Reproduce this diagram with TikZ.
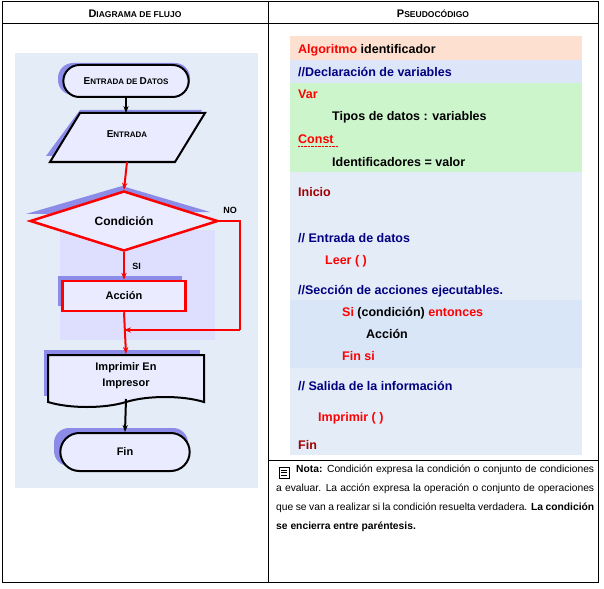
\documentclass[tikz,border=0pt]{standalone}
\usepackage{fontspec}
\setmainfont{Liberation Sans}
\usetikzlibrary{shapes.geometric,shapes.symbols,shapes.misc,arrows.meta}
\definecolor{kw}{HTML}{FF0000}
\definecolor{cm}{HTML}{000080}
\definecolor{dr}{HTML}{A00000}
\definecolor{panel}{HTML}{E4ECF8}
\definecolor{bandA}{HTML}{FDE0D0}
\definecolor{bandB}{HTML}{DCE6F8}
\definecolor{bandC}{HTML}{CCF5CC}
\definecolor{bandD}{HTML}{D8E6F8}
\definecolor{shd}{HTML}{8C8CE8}
\tikzset{
 x=1pt,y=-1pt,
 fbox/.style={draw=black,line width=2pt,fill=blue!8,font=\bfseries\fontsize{10}{12}\selectfont,align=center},
 redln/.style={draw=red,line width=2pt},
 blkarrow/.style={draw=black,line width=2pt,-{Stealth[length=7pt]}},
 redarrow/.style={draw=red,line width=2pt,-{Stealth[length=7pt]}},
 code/.style={anchor=base west,inner sep=0pt,font=\bfseries\fontsize{12.5}{14}\selectfont},
 hdr/.style={font=\bfseries\fontsize{11}{12}\selectfont}
}
\begin{document}
\begin{tikzpicture}
\useasboundingbox (0,0) rectangle (604,588);
\fill[white] (0,0) rectangle (604,588);
% table
\draw[line width=1pt] (2,2) rectangle (598,582);
\draw[line width=1pt] (2,24) -- (598,24);
\draw[line width=1pt] (268,2) -- (268,582);
\draw[line width=1pt] (268,460) -- (598,460);
\node[hdr] (h1) at (135,14) {D{\fontsize{8.5}{10}\selectfont IAGRAMA DE FLUJO}};
\node[hdr] (h2) at (433,14) {P{\fontsize{8.5}{10}\selectfont SEUDOCÓDIGO}};
% left panel
\fill[panel] (15,53) rectangle (258,488);
\fill[blue!13] (60,230) rectangle (215,340);
% shadows
\fill[shd,rounded corners=15pt] (58,63) rectangle (190,95);
\fill[shd] (80,110) -- (202,110) -- (172,156) -- (46,156) -- cycle;
\fill[shd] (122,186) -- (210,212) -- (26,214) -- cycle;
\fill[shd] (58,276) rectangle (182,306);
\fill[shd] (44,350) rectangle (200,396);
\fill[shd,rounded corners=15pt] (54,428) rectangle (188,466);
% nodes
\node[fbox,rounded rectangle,minimum width=132pt,minimum height=32pt] (ini) at (126,81) {E{\fontsize{8}{9}\selectfont NTRADA DE }D{\fontsize{8}{9}\selectfont ATOS}};
\coordinate (p1) at (80,113);
\coordinate (p2) at (205,113);
\coordinate (p3) at (175,162);
\coordinate (p4) at (50,162);
\filldraw[fill=blue!8,line width=2pt] (p1) -- (p2) -- (p3) -- (p4) -- cycle;
\node[font=\bfseries\fontsize{10}{12}\selectfont] (ent) at (127,134) {E{\fontsize{8}{9}\selectfont NTRADA}};
\node[draw=red,line width=2.5pt,fill=blue!8,diamond,aspect=3.1,minimum width=188pt,minimum height=60pt,inner sep=0pt,font=\bfseries\fontsize{12}{13}\selectfont] (cond) at (124,221) {Condición};
\node[draw=red,line width=2.5pt,fill=blue!8,minimum width=123pt,minimum height=30pt,font=\bfseries\fontsize{11}{12}\selectfont] (acc) at (124,296) {Acción};
\node[fbox,tape,tape bend top=none,tape bend height=10pt,minimum width=156pt,minimum height=52pt,font=\bfseries\fontsize{11}{16}\selectfont] (imp) at (126,376) {Imprimir En\\Impresor};
\node[fbox,rounded rectangle,minimum width=136pt,minimum height=38pt,font=\bfseries\fontsize{11}{12}\selectfont] (fin) at (125,452) {Fin};
\coordinate (nr) at (240,221);
\coordinate (nd) at (240,330);
\coordinate (mj) at (124,330);
\coordinate (ib) at (126,399);
\draw[blkarrow] (ini.south) -- (ini.south |- p1);
\draw[redarrow] (ent.south |- p3) -- (cond.north);
\draw[redarrow] (cond.south) -- node[right,font=\bfseries\fontsize{9}{10}\selectfont,xshift=4pt]{SI} (acc.north);
\draw[redarrow] (acc.south) -- (imp.north);
\draw[redln] (cond.east) -- (nr) -- (nd);
\draw[redarrow] (nd) -- (mj);
\node[font=\bfseries\fontsize{9}{10}\selectfont] (no) at (230,210) {NO};
\draw[blkarrow] (ib) -- (fin.north);
% right panel
\fill[panel] (290,36) rectangle (582,455);
\fill[bandA] (290,36) rectangle (582,60);
\fill[bandB] (290,60) rectangle (582,83);
\fill[bandC] (290,83) rectangle (582,172);
\fill[bandD] (290,300) rectangle (582,368);
\node[code] (l1) at (298,54) {\textcolor{kw}{Algoritmo} identificador};
\node[code,text=cm] (l2) at (298,77) {//Declaración de variables};
\node[code,text=kw] (l3) at (298,99) {Var};
\node[code] (l4) at (332,121) {Tipos de datos : variables};
\node[code,text=kw] (l5) at (298,143) {Const};
\draw[red,densely dotted] (298,146) -- (338,146);
\node[code] (l6) at (332,166) {Identificadores = valor};
\node[code,text=dr] (l7) at (298,196) {Inicio};
\node[code,text=cm] (l8) at (298,242) {// Entrada de datos};
\node[code,text=kw] (l9) at (325,264) {Leer ( )};
\node[code,text=cm] (l10) at (298,294) {//Sección de acciones ejecutables.};
\node[code] (l11) at (342,316) {\textcolor{kw}{Si} (condición) \textcolor{kw}{entonces}};
\node[code] (l12) at (366,338) {Acción};
\node[code,text=kw] (l13) at (342,360) {Fin si};
\node[code,text=cm] (l14) at (298,390) {// Salida de la información};
\node[code,text=kw] (l15) at (318,421) {Imprimir ( )};
\node[code,text=dr] (l16) at (298,449) {Fin};
% note
\draw[fill=white] (279,467) rectangle (289,478);
\foreach \yy in {470,472.5,475} \draw (281,\yy) -- (287,\yy);
\node[anchor=north west,inner sep=0pt,text width=318pt,align=justify,font=\fontsize{10.3}{19}\selectfont] (note) at (276,465) {\hspace*{20pt}\textbf{Nota:} Condición expresa la condición o conjunto de condiciones a evaluar. La acción expresa la operación o conjunto de operaciones que se van a realizar si la condición resuelta verdadera. \textbf{La condición se encierra entre paréntesis.}};
\end{tikzpicture}
\end{document}
